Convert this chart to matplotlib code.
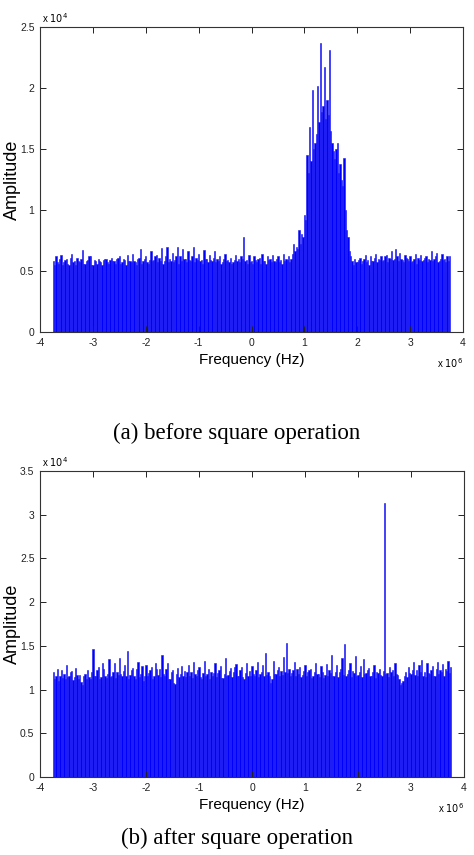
import numpy as np
import matplotlib
matplotlib.use("Agg")
import matplotlib.pyplot as plt
from matplotlib.ticker import FuncFormatter

plt.rcParams['axes.unicode_minus'] = False

# spectrum amplitudes (x 10^4), frequency bins from -3.75 to 3.75 (x 10^6 Hz), step 0.025
amp_before = [
    0.58, 0.55, 0.62, 0.57, 0.56, 0.60, 0.63, 0.55, 0.57, 0.59,
    0.60, 0.56, 0.55, 0.61, 0.64, 0.57, 0.58, 0.55, 0.61, 0.58,
    0.57, 0.60, 0.67, 0.56, 0.56, 0.58, 0.59, 0.62, 0.62, 0.55,
    0.55, 0.59, 0.58, 0.56, 0.60, 0.58, 0.57, 0.55, 0.59, 0.60,
    0.60, 0.57, 0.56, 0.59, 0.61, 0.58, 0.58, 0.56, 0.60, 0.61,
    0.62, 0.56, 0.57, 0.60, 0.59, 0.55, 0.63, 0.58, 0.58, 0.57,
    0.64, 0.58, 0.57, 0.55, 0.60, 0.61, 0.68, 0.56, 0.58, 0.60,
    0.62, 0.57, 0.56, 0.59, 0.66, 0.58, 0.59, 0.62, 0.63, 0.57,
    0.61, 0.58, 0.69, 0.56, 0.58, 0.62, 0.70, 0.57, 0.60, 0.58,
    0.65, 0.57, 0.59, 0.62, 0.70, 0.56, 0.62, 0.58, 0.68, 0.60,
    0.60, 0.57, 0.66, 0.59, 0.58, 0.62, 0.70, 0.57, 0.61, 0.59,
    0.64, 0.58, 0.59, 0.56, 0.67, 0.60, 0.60, 0.57, 0.63, 0.59,
    0.58, 0.61, 0.66, 0.57, 0.60, 0.58, 0.62, 0.56, 0.57, 0.60,
    0.64, 0.58, 0.59, 0.57, 0.61, 0.56, 0.57, 0.59, 0.63, 0.58,
    0.60, 0.57, 0.62, 0.60, 0.78, 0.58, 0.59, 0.56, 0.63, 0.57,
    0.58, 0.56, 0.62, 0.59, 0.57, 0.60, 0.61, 0.56, 0.64, 0.58,
    0.58, 0.56, 0.62, 0.59, 0.60, 0.57, 0.63, 0.58, 0.57, 0.60,
    0.62, 0.57, 0.59, 0.56, 0.64, 0.58, 0.60, 0.59, 0.62, 0.57,
    0.60, 0.64, 0.72, 0.66, 0.70, 0.68, 0.84, 0.72, 0.80, 0.78,
    0.96, 0.92, 1.45, 1.30, 1.68, 1.40, 1.98, 1.50, 1.55, 1.62,
    2.02, 1.72, 2.37, 1.80, 1.85, 2.17, 1.75, 1.90, 1.78, 2.31,
    1.65, 1.55, 1.48, 1.42, 1.50, 1.55, 1.30, 1.38, 1.25, 1.20,
    1.43, 1.00, 0.84, 0.78, 0.66, 0.62, 0.58, 0.55, 0.60, 0.57,
    0.57, 0.59, 0.61, 0.56, 0.58, 0.60, 0.63, 0.57, 0.59, 0.55,
    0.62, 0.58, 0.58, 0.61, 0.64, 0.57, 0.60, 0.59, 0.62, 0.58,
    0.59, 0.62, 0.63, 0.57, 0.61, 0.60, 0.66, 0.59, 0.60, 0.68,
    0.62, 0.58, 0.65, 0.60, 0.59, 0.57, 0.63, 0.61, 0.60, 0.58,
    0.62, 0.57, 0.58, 0.60, 0.64, 0.56, 0.61, 0.59, 0.63, 0.58,
    0.59, 0.61, 0.62, 0.57, 0.60, 0.59, 0.66, 0.58, 0.60, 0.62,
    0.65, 0.57, 0.58, 0.60, 0.64, 0.59, 0.60, 0.57, 0.62, 0.58,
    0.62,
]

amp_after = [
    1.20, 1.12, 1.16, 1.24, 1.10, 1.15, 1.22, 1.13, 1.18, 1.12,
    1.28, 1.14, 1.16, 1.20, 1.21, 1.11, 1.14, 1.25, 1.17, 1.12,
    1.17, 1.09, 1.05, 1.15, 1.18, 1.12, 1.22, 1.14, 1.12, 1.20,
    1.47, 1.15, 1.16, 1.22, 1.26, 1.12, 1.14, 1.30, 1.24, 1.16,
    1.13, 1.18, 1.35, 1.14, 1.16, 1.20, 1.30, 1.13, 1.20, 1.17,
    1.36, 1.18, 1.15, 1.21, 1.28, 1.15, 1.44, 1.12, 1.17, 1.22,
    1.25, 1.16, 1.12, 1.24, 1.32, 1.14, 1.18, 1.27, 1.10, 1.16,
    1.28, 1.15, 1.19, 1.22, 1.26, 1.12, 1.15, 1.30, 1.24, 1.17,
    1.24, 1.14, 1.40, 1.18, 1.16, 1.23, 1.30, 1.12, 1.12, 1.20,
    1.22, 1.08, 1.06, 1.18, 1.25, 1.14, 1.18, 1.27, 1.15, 1.21,
    1.14, 1.20, 1.28, 1.16, 1.20, 1.13, 1.31, 1.18, 1.16, 1.22,
    1.26, 1.14, 1.12, 1.19, 1.33, 1.15, 1.18, 1.24, 1.12, 1.20,
    1.15, 1.19, 1.30, 1.14, 1.19, 1.22, 1.27, 1.13, 1.13, 1.18,
    1.36, 1.15, 1.17, 1.21, 1.25, 1.14, 1.20, 1.26, 1.29, 1.16,
    1.16, 1.22, 1.26, 1.14, 1.12, 1.19, 1.30, 1.16, 1.21, 1.15,
    1.27, 1.18, 1.15, 1.22, 1.31, 1.14, 1.18, 1.20, 1.28, 1.16,
    1.42, 1.17, 1.20, 1.15, 1.07, 1.12, 1.33, 1.18, 1.18, 1.22,
    1.26, 1.15, 1.21, 1.17, 1.37, 1.20, 1.53, 1.19, 1.24, 1.16,
    1.19, 1.22, 1.31, 1.15, 1.23, 1.18, 1.26, 1.14, 1.17, 1.21,
    1.28, 1.16, 1.20, 1.22, 1.24, 1.13, 1.16, 1.20, 1.30, 1.18,
    1.18, 1.14, 1.27, 1.20, 1.13, 1.17, 1.29, 1.15, 1.22, 1.19,
    1.40, 1.16, 1.15, 1.20, 1.28, 1.14, 1.20, 1.23, 1.36, 1.17,
    1.52, 1.15, 1.18, 1.22, 1.30, 1.14, 1.21, 1.19, 1.38, 1.16,
    1.17, 1.20, 1.27, 1.14, 1.35, 1.18, 1.19, 1.22, 1.25, 1.15,
    1.16, 1.20, 1.28, 1.13, 1.20, 1.19, 1.24, 1.17, 1.15, 1.21,
    3.13, 1.18, 1.19, 1.14, 1.26, 1.20, 1.22, 1.15, 1.30, 1.18,
    1.17, 1.12, 1.05, 1.08, 1.10, 1.16, 1.20, 1.14, 1.26, 1.19,
    1.18, 1.22, 1.32, 1.17, 1.22, 1.15, 1.28, 1.20, 1.34, 1.16,
    1.20, 1.14, 1.30, 1.19, 1.18, 1.22, 1.27, 1.15, 1.16, 1.24,
    1.31, 1.18, 1.22, 1.20, 1.29, 1.16, 1.24, 1.21, 1.33, 1.19,
    1.26,
]

freq_min, freq_max = -3.75, 3.75
x_ticks = [-4, -3, -2, -1, 0, 1, 2, 3, 4]
y_ticks_before = [0, 0.5, 1, 1.5, 2, 2.5]
y_ticks_after = [0, 0.5, 1, 1.5, 2, 2.5, 3, 3.5]

sans = ['Liberation Sans', 'DejaVu Sans']
fmt = FuncFormatter(lambda v, p: '%g' % v)


def draw_panel(ax, amp, yticks, caption, cap_y):
    freq = np.linspace(freq_min, freq_max, len(amp))
    step = freq[1] - freq[0]
    ax.bar(freq, amp, width=step, color='#0000ff', edgecolor='#1a1af0',
           linewidth=0.4, align='center')
    ax.set_xlim(-4, 4)
    ax.set_ylim(0, yticks[-1])
    ax.set_xticks(x_ticks)
    ax.set_yticks(yticks)
    ax.xaxis.set_major_formatter(fmt)
    ax.yaxis.set_major_formatter(fmt)
    ax.tick_params(direction='in', length=4, width=0.7, top=True, right=True,
                   labelsize=7.5, colors='#222222', pad=4)
    for lab in ax.get_xticklabels() + ax.get_yticklabels():
        lab.set_family(sans)
    for s in ax.spines.values():
        s.set_linewidth(0.8)
        s.set_color('#333333')
    ax.set_xlabel('Frequency (Hz)', family=sans, fontsize=11)
    ax.xaxis.set_label_coords(0.5, -0.068)
    ax.set_ylabel('Amplitude', family=sans, fontsize=13)
    ax.yaxis.set_label_coords(-0.045, 0.5)
    ax.text(0.005, 1.005, r'x $10^4$', transform=ax.transAxes, fontsize=7,
            family=sans, ha='left', va='bottom')
    ax.text(1.0, -0.078, r'x $10^6$', transform=ax.transAxes, fontsize=7,
            family=sans, ha='right', va='top')
    fig.text(0.5, cap_y, caption, family='Liberation Serif', fontsize=16.5,
             ha='center', va='center')


fig = plt.figure(figsize=(4.74, 8.55), dpi=100)
ax1 = fig.add_axes([0.0844, 0.6117, 0.8924, 0.3567])
ax2 = fig.add_axes([0.0844, 0.0912, 0.8945, 0.3579])

draw_panel(ax1, amp_before, y_ticks_before, '(a) before square operation', 1 - 433 / 855)
draw_panel(ax2, amp_after, y_ticks_after, '(b) after square operation', 1 - 838 / 855)

fig.savefig('out.png', dpi=100)
